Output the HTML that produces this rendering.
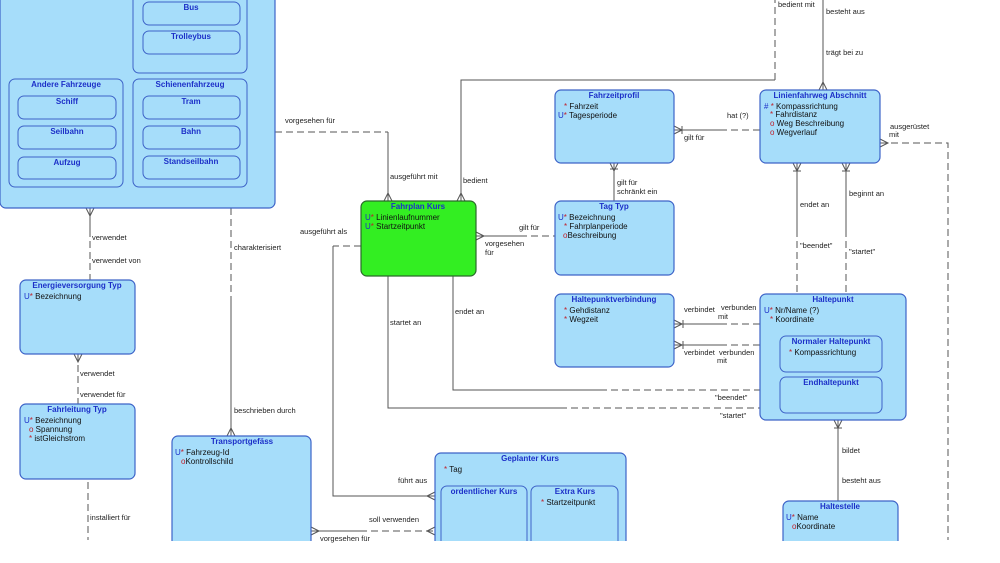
<!DOCTYPE html>
<html><head><meta charset="utf-8"><style>
html,body{margin:0;padding:0;background:#fff;width:1000px;height:563px;overflow:hidden}
svg{display:block}
.b{fill:#a6ddfa;stroke:#3d63c8;stroke-width:1.2}
.i{fill:#a6ddfa;stroke:#3d63c8;stroke-width:1}
.t{font-family:"Liberation Sans",sans-serif;font-size:8px;font-weight:bold;fill:#1c2fc8;text-anchor:middle}
.a{font-family:"Liberation Sans",sans-serif;font-size:8px;fill:#111}
.l{font-family:"Liberation Sans",sans-serif;font-size:7.5px;fill:#222}
.r{fill:#c0202a}
.u{fill:#1c2fc8}
.s{stroke:#555;stroke-width:1;fill:none}
.d{stroke:#555;stroke-width:1;fill:none;stroke-dasharray:7 4}
</style></head><body>
<svg width="1000" height="563" viewBox="0 0 1000 563">
<!-- connectors -->
<polyline class="d" points="275,132 388,132"/><polyline class="s" points="388,132 388,201"/>
<polyline class="s" points="461,201 461,80 775,80"/><polyline class="d" points="775,80 775,0"/>
<polyline class="s" points="823,0 823,90"/>
<polyline class="s" points="674,130 720,130"/><polyline class="d" points="720,130 760,130"/>
<polyline class="s" points="614,163 614,201"/>
<polyline class="s" points="476,236 520,236"/><polyline class="d" points="520,236 555,236"/>
<polyline class="d" points="880,143 948,143 948,540"/>
<polyline class="s" points="797,163 797,230"/><polyline class="d" points="797,230 797,294"/>
<polyline class="s" points="846,163 846,230"/><polyline class="d" points="846,230 846,294"/>
<polyline class="s" points="674,324 720,324"/><polyline class="d" points="720,324 760,324"/>
<polyline class="s" points="674,345 720,345"/><polyline class="d" points="720,345 760,345"/>
<polyline class="s" points="453,276 453,390 600,390"/><polyline class="d" points="600,390 760,390"/>
<polyline class="s" points="388,276 388,408 560,408"/><polyline class="d" points="560,408 760,408"/>
<polyline class="d" points="361,246 333,246"/><polyline class="s" points="333,246 333,496 435,496"/>
<polyline class="s" points="311,531 360,531"/><polyline class="d" points="360,531 435,531"/>
<polyline class="d" points="231,208 231,300"/><polyline class="s" points="231,300 231,436"/>
<polyline class="s" points="90,208 90,230"/><polyline class="d" points="90,230 90,280"/>
<polyline class="d" points="78,354 78,404"/>
<polyline class="d" points="88,482 88,540"/>
<polyline class="s" points="838,420 838,501"/>
<!-- crow feet -->
<g class="s">
<path d="M384,201 L388,193 L392,201"/><path d="M457,201 L461,193 L465,201"/>
<path d="M819,90 L823,82 L827,90"/>
<path d="M674,126 L682,130 L674,134 M682,126 L682,134"/>
<path d="M610,163 L614,171 L618,163 M610,169 L618,169"/>
<path d="M476,232 L484,236 L476,240"/>
<path d="M880,139 L888,143 L880,147"/>
<path d="M793,163 L797,171 L801,163 M793,171 L801,171"/>
<path d="M842,163 L846,171 L850,163 M842,171 L850,171"/>
<path d="M674,320 L682,324 L674,328 M683,320 L683,328"/>
<path d="M674,341 L682,345 L674,349 M683,341 L683,349"/>
<path d="M435,492 L427,496 L435,500"/><path d="M435,527 L427,531 L435,535"/>
<path d="M311,527 L319,531 L311,535"/>
<path d="M227,436 L231,428 L235,436"/>
<path d="M86,208 L90,216 L94,208"/><path d="M74,354 L78,362 L82,354"/>
<path d="M834,420 L838,428 L842,420 M834,428 L842,428"/>
</g>
<!-- big vehicle box -->
<rect class="b" x="0" y="-10" width="275" height="218" rx="6"/>
<rect class="i" x="133" y="-10" width="114" height="83" rx="6"/>
<rect class="i" x="143" y="2" width="97" height="23" rx="6"/><text class="t" x="191" y="10">Bus</text>
<rect class="i" x="143" y="31" width="97" height="23" rx="6"/><text class="t" x="191" y="39">Trolleybus</text>
<rect class="i" x="9" y="79" width="114" height="108" rx="6"/><text class="t" x="66" y="87">Andere Fahrzeuge</text>
<rect class="i" x="18" y="96" width="98" height="23" rx="6"/><text class="t" x="67" y="104">Schiff</text>
<rect class="i" x="18" y="126" width="98" height="23" rx="6"/><text class="t" x="67" y="134">Seilbahn</text>
<rect class="i" x="18" y="157" width="98" height="22" rx="6"/><text class="t" x="67" y="165">Aufzug</text>
<rect class="i" x="133" y="79" width="114" height="108" rx="6"/><text class="t" x="190" y="87">Schienenfahrzeug</text>
<rect class="i" x="143" y="96" width="97" height="23" rx="6"/><text class="t" x="191" y="104">Tram</text>
<rect class="i" x="143" y="126" width="97" height="23" rx="6"/><text class="t" x="191" y="134">Bahn</text>
<rect class="i" x="143" y="156" width="97" height="23" rx="6"/><text class="t" x="191" y="164">Standseilbahn</text>
<!-- Energieversorgung -->
<rect class="b" x="20" y="280" width="115" height="74" rx="6"/><text class="t" x="77" y="288">Energieversorgung Typ</text>
<text class="a" x="24" y="299"><tspan class="u">U</tspan><tspan class="r">*</tspan> Bezeichnung</text>
<!-- Fahrleitung -->
<rect class="b" x="20" y="404" width="115" height="75" rx="6"/><text class="t" x="77" y="412">Fahrleitung Typ</text>
<text class="a" x="24" y="423"><tspan class="u">U</tspan><tspan class="r">*</tspan> Bezeichnung</text>
<text class="a" x="29" y="432"><tspan class="r">o</tspan> Spannung</text>
<text class="a" x="29" y="441"><tspan class="r">*</tspan> istGleichstrom</text>
<!-- Transportgefäss -->
<rect class="b" x="172" y="436" width="139" height="120" rx="6"/><text class="t" x="242" y="444">Transportgefäss</text>
<text class="a" x="175" y="455"><tspan class="u">U</tspan><tspan class="r">*</tspan> Fahrzeug-Id</text>
<text class="a" x="181" y="464"><tspan class="r">o</tspan>Kontrollschild</text>
<!-- Fahrplan Kurs -->
<rect x="361" y="201" width="115" height="75" rx="6" fill="#33ee22" stroke="#2a6a2a" stroke-width="1.2"/>
<text class="t" x="418" y="209">Fahrplan Kurs</text>
<text class="a" x="365" y="220"><tspan class="u">U</tspan><tspan class="r">*</tspan> Linienlaufnummer</text>
<text class="a" x="365" y="229"><tspan class="u">U</tspan><tspan class="r">*</tspan> Startzeitpunkt</text>
<!-- Fahrzeitprofil -->
<rect class="b" x="555" y="90" width="119" height="73" rx="6"/><text class="t" x="614" y="98">Fahrzeitprofil</text>
<text class="a" x="564" y="109"><tspan class="r">*</tspan> Fahrzeit</text>
<text class="a" x="558" y="118"><tspan class="u">U</tspan><tspan class="r">*</tspan> Tagesperiode</text>
<!-- Tag Typ -->
<rect class="b" x="555" y="201" width="119" height="74" rx="6"/><text class="t" x="614" y="209">Tag Typ</text>
<text class="a" x="558" y="220"><tspan class="u">U</tspan><tspan class="r">*</tspan> Bezeichnung</text>
<text class="a" x="564" y="229"><tspan class="r">*</tspan> Fahrplanperiode</text>
<text class="a" x="563" y="238"><tspan class="r">o</tspan>Beschreibung</text>
<!-- Linienfahrweg Abschnitt -->
<rect class="b" x="760" y="90" width="120" height="73" rx="6"/><text class="t" x="820" y="98">Linienfahrweg Abschnitt</text>
<text class="a" x="764" y="109"><tspan class="u">#</tspan> <tspan class="r">*</tspan> Kompassrichtung</text>
<text class="a" x="770" y="117"><tspan class="r">*</tspan> Fahrdistanz</text>
<text class="a" x="770" y="126"><tspan class="r">o</tspan> Weg Beschreibung</text>
<text class="a" x="770" y="135"><tspan class="r">o</tspan> Wegverlauf</text>
<!-- Haltepunktverbindung -->
<rect class="b" x="555" y="294" width="119" height="73" rx="6"/><text class="t" x="614" y="302">Haltepunktverbindung</text>
<text class="a" x="564" y="313"><tspan class="r">*</tspan> Gehdistanz</text>
<text class="a" x="564" y="322"><tspan class="r">*</tspan> Wegzeit</text>
<!-- Haltepunkt -->
<rect class="b" x="760" y="294" width="146" height="126" rx="6"/><text class="t" x="833" y="302">Haltepunkt</text>
<text class="a" x="764" y="313"><tspan class="u">U</tspan><tspan class="r">*</tspan> Nr/Name (?)</text>
<text class="a" x="770" y="322"><tspan class="r">*</tspan> Koordinate</text>
<rect class="i" x="780" y="336" width="102" height="36" rx="6"/><text class="t" x="831" y="344">Normaler Haltepunkt</text>
<text class="a" x="789" y="355"><tspan class="r">*</tspan> Kompassrichtung</text>
<rect class="i" x="780" y="377" width="102" height="36" rx="6"/><text class="t" x="831" y="385">Endhaltepunkt</text>
<!-- Haltestelle -->
<rect class="b" x="783" y="501" width="115" height="60" rx="6"/><text class="t" x="840" y="509">Haltestelle</text>
<text class="a" x="786" y="520"><tspan class="u">U</tspan><tspan class="r">*</tspan> Name</text>
<text class="a" x="792" y="529"><tspan class="r">o</tspan>Koordinate</text>
<!-- Geplanter Kurs -->
<rect class="b" x="435" y="453" width="191" height="110" rx="6"/><text class="t" x="530" y="461">Geplanter Kurs</text>
<text class="a" x="444" y="472"><tspan class="r">*</tspan> Tag</text>
<rect class="i" x="441" y="486" width="86" height="80" rx="6"/><text class="t" x="484" y="494">ordentlicher Kurs</text>
<rect class="i" x="531" y="486" width="87" height="80" rx="6"/><text class="t" x="575" y="494">Extra Kurs</text>
<text class="a" x="541" y="505"><tspan class="r">*</tspan> Startzeitpunkt</text>
<!-- white bottom -->
<rect x="0" y="541" width="1000" height="22" fill="#fff"/>
<!-- labels -->
<g class="l">
<text x="285" y="123">vorgesehen für</text>
<text x="390" y="179">ausgeführt mit</text>
<text x="463" y="183">bedient</text>
<text x="778" y="7">bedient mit</text>
<text x="826" y="14">besteht aus</text>
<text x="826" y="55">trägt bei zu</text>
<text x="727" y="118">hat (?)</text>
<text x="684" y="140">gilt für</text>
<text x="617" y="185">gilt für</text>
<text x="617" y="194">schränkt ein</text>
<text x="519" y="230">gilt für</text>
<text x="485" y="246">vorgesehen</text>
<text x="485" y="255">für</text>
<text x="890" y="129">ausgerüstet</text>
<text x="889" y="137">mit</text>
<text x="800" y="207">endet an</text>
<text x="800" y="248">"beendet"</text>
<text x="849" y="196">beginnt an</text>
<text x="849" y="254">"startet"</text>
<text x="684" y="312">verbindet</text>
<text x="721" y="310">verbunden</text>
<text x="718" y="319">mit</text>
<text x="684" y="355">verbindet</text>
<text x="719" y="355">verbunden</text>
<text x="717" y="363">mit</text>
<text x="455" y="314">endet an</text>
<text x="715" y="400">"beendet"</text>
<text x="390" y="325">startet an</text>
<text x="720" y="418">"startet"</text>
<text x="300" y="234">ausgeführt als</text>
<text x="398" y="483">führt aus</text>
<text x="369" y="522">soll verwenden</text>
<text x="320" y="541">vorgesehen für</text>
<text x="234" y="250">charakterisiert</text>
<text x="234" y="413">beschrieben durch</text>
<text x="92" y="240">verwendet</text>
<text x="92" y="263">verwendet von</text>
<text x="80" y="376">verwendet</text>
<text x="80" y="397">verwendet für</text>
<text x="90" y="520">installiert für</text>
<text x="842" y="453">bildet</text>
<text x="842" y="483">besteht aus</text>
</g>
</svg>
</body></html>
